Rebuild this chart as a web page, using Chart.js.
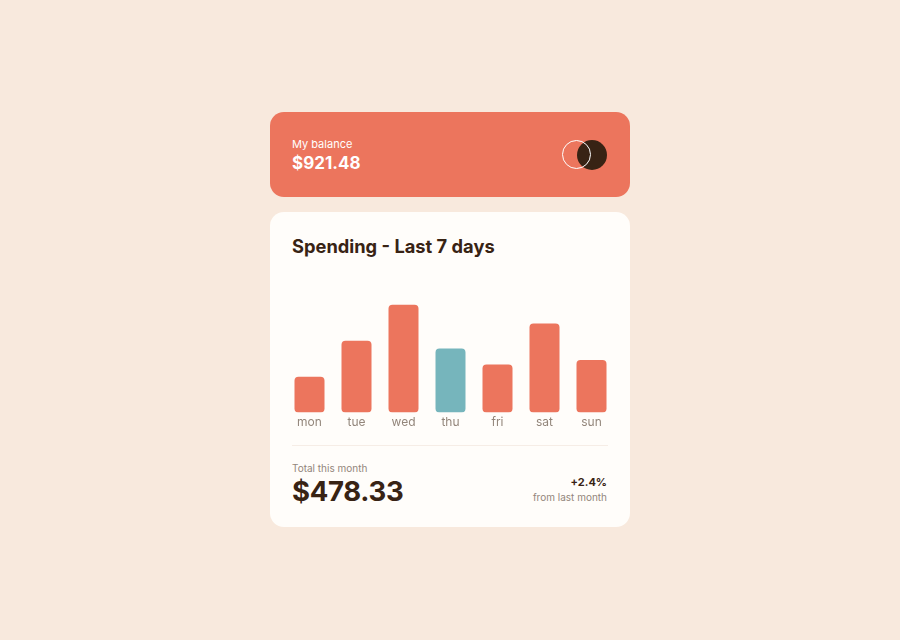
<!DOCTYPE html>
<html>
<head>
<meta charset="utf-8">
<script src="https://cdn.jsdelivr.net/npm/chart.js@4/dist/chart.umd.min.js"></script>
<style>
  html, body { margin: 0; padding: 0; }
  body { width: 900px; height: 640px; background: #f8e9dd; font-family: Inter, "DejaVu Sans", sans-serif; position: relative; overflow: hidden; }
  .balance { position: absolute; left: 270px; top: 112px; width: 360px; height: 85px; background: #ec755d; border-radius: 14px; color: #fff; }
  .balance .lbl { position: absolute; left: 22px; top: 25px; font-size: 11px; }
  .balance .amt { position: absolute; left: 22px; top: 41px; font-size: 17px; font-weight: 700; }
  .dot { position: absolute; border-radius: 50%; width: 30px; height: 30px; top: 28px; }
  .dot.dark { left: 307px; background: #382314; }
  .dot.ring { left: 292px; border: 1.5px solid #fff; width: 27px; height: 27px; top: 28px; }
  .card { position: absolute; left: 270px; top: 212px; width: 360px; height: 315px; background: #fffdfa; border-radius: 14px; }
  .title { position: absolute; left: 292px; top: 235px; font-size: 18.3px; font-weight: 700; color: #382314; }
  .chartbox { position: absolute; left: 286px; top: 289px; width: 329px; height: 144px; }
  .divider { position: absolute; left: 292px; top: 445px; width: 316px; height: 1px; background: #f6ede6; }
  .tlbl { position: absolute; left: 292px; top: 462px; font-size: 10px; color: #93867b; }
  .total { position: absolute; left: 292px; top: 474px; font-size: 27.5px; font-weight: 700; color: #382314; letter-spacing: -0.3px; }
  .pct { position: absolute; right: 293px; top: 475px; font-size: 11px; font-weight: 700; color: #382314; }
  .from { position: absolute; right: 293px; top: 491px; font-size: 10px; color: #93867b; }
</style>
</head>
<body>
<div class="balance">
  <div class="lbl">My balance</div>
  <div class="amt">$921.48</div>
  <div class="dot dark"></div>
  <div class="dot ring"></div>
</div>
<div class="card"></div>
<div class="title">Spending - Last 7 days</div>
<div class="chartbox"><canvas id="bars"></canvas></div>
<div class="divider"></div>
<div class="tlbl">Total this month</div>
<div class="total">$478.33</div>
<div class="pct">+2.4%</div>
<div class="from">from last month</div>

<script>
const days = ["mon", "tue", "wed", "thu", "fri", "sat", "sun"];
const amounts = [17.45, 34.91, 52.36, 31.07, 23.39, 43.28, 25.48];
const highlightDay = "thu";

const ctx = document.getElementById("bars").getContext("2d");
new Chart(ctx, {
  type: "bar",
  data: {
    labels: days,
    datasets: [
      {
        data: amounts,
        backgroundColor: days.map((d) => (d === highlightDay ? "#76b5bc" : "#ec755d")),
        borderRadius: 4,
        borderSkipped: false,
        barPercentage: 1,
        categoryPercentage: 30 / 47,
      },
    ],
  },
  options: {
    responsive: true,
    maintainAspectRatio: false,
    animation: false,
    layout: { padding: 0 },
    plugins: {
      legend: { display: false },
      tooltip: { enabled: false },
    },
    scales: {
      x: {
        grid: { display: false, drawTicks: false },
        border: { display: false },
        ticks: { color: "#93867b", font: { family: "Inter", size: 12 }, padding: 3 },
      },
      y: {
        display: false,
        min: 0,
        max: 60,
      },
    },
  },
});
</script>
</body>
</html>
